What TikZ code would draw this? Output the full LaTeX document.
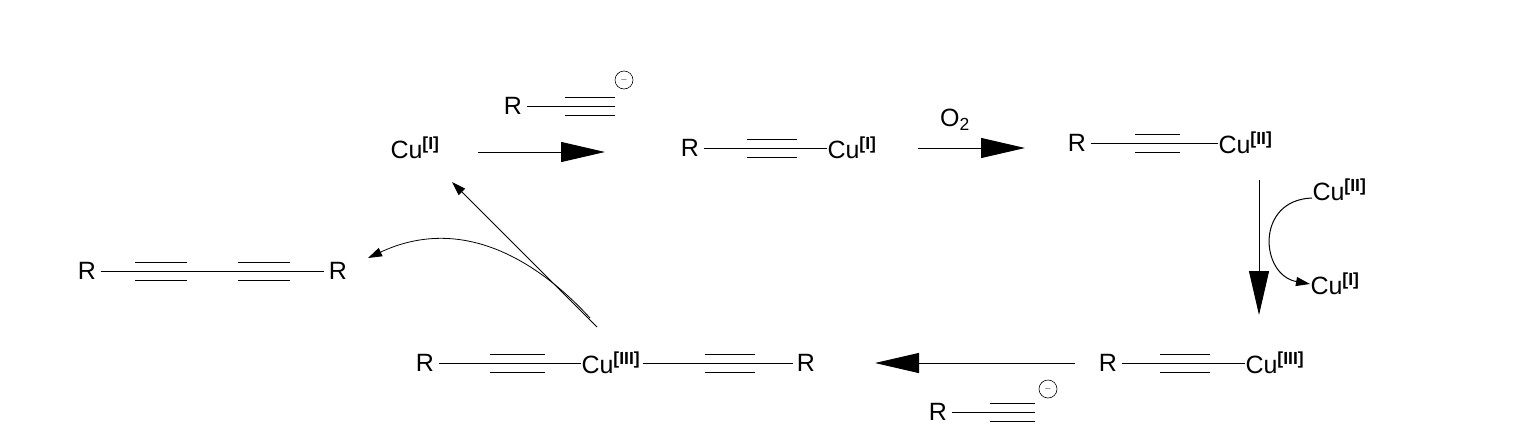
\documentclass[tikz,border=0pt]{standalone}
\usepackage{fontspec}
\setmainfont{Liberation Sans}
\usetikzlibrary{arrows.meta}
\begin{document}
\begin{tikzpicture}[x=1pt,y=-1pt,line width=1pt,
  lbl/.style={font=\fontsize{25}{27}\selectfont,inner sep=0pt},
  big/.style={-{Triangle[length=44pt,width=20pt]}},
  small/.style={-{Triangle[length=14pt,width=9pt]}},
  minus/.style={circle,draw,line width=0.6pt,minimum size=18pt,inner sep=0pt,font=\small}]
\useasboundingbox (0,0) rectangle (1517,426);
\newcommand{\tb}[3]{% x1 x2 y : outer bond lines
  \draw (#1,#3-9) -- (#2,#3-9); \draw (#1,#3+9) -- (#2,#3+9);}
% Cu(I) start
\node[lbl] (cu1) at (415,148) {Cu\textsuperscript{\textbf{[I]}}};
% reagent top
\node[lbl] (rt) at (513,106) {R};
\coordinate (rte) at (615,106);
\draw (rt.east) ++(4,0) -- (rte); \tb{565}{615}{106}
\node[minus] (mt) at (624,80) {$-$};
\coordinate (a1s) at (478,152); \coordinate (a1e) at (605,152);
\draw[big] (a1s) -- (a1e);
% R-C#C-Cu(I)
\node[lbl] (r2) at (690,148) {R};
\node[lbl,anchor=west] (cu2) at (827,148) {Cu\textsuperscript{\textbf{[I]}}};
\draw (r2.east) ++(4,0) -- (cu2.west); \tb{747}{797}{148}
\node[lbl] (o2) at (955,120) {O\textsubscript{2}};
\coordinate (a2s) at (918,148); \coordinate (a2e) at (1025,148);
\draw[big] (a2s) -- (a2e);
% R-C#C-Cu(II)
\node[lbl] (r3) at (1077,143) {R};
\node[lbl,anchor=west] (cu3) at (1218,143) {Cu\textsuperscript{\textbf{[II]}}};
\draw (r3.east) ++(4,0) -- (cu3.west); \tb{1135}{1180}{143}
\coordinate (a3s) at (1259,180); \coordinate (a3e) at (1259,315);
\draw[big] (a3s) -- (a3e);
\node[lbl,anchor=west] (cuii) at (1312,190) {Cu\textsuperscript{\textbf{[II]}}};
\node[lbl,anchor=west] (cui) at (1310,284) {Cu\textsuperscript{\textbf{[I]}}};
\draw[small] (cuii.west) ++(0,8) .. controls (1255,200) and (1260,275) .. (cui.west);
% R-C#C-Cu(III)
\node[lbl] (r4) at (1108,363) {R};
\node[lbl,anchor=west] (cu4) at (1245,363) {Cu\textsuperscript{\textbf{[III]}}};
\draw (r4.east) ++(4,0) -- (cu4.west); \tb{1160}{1210}{363}
\coordinate (a4s) at (1075,363); \coordinate (a4e) at (875,363);
\draw[big] (a4s) -- (a4e);
% reagent bottom
\node[lbl] (rb) at (938,412) {R};
\coordinate (rbe) at (1035,412);
\draw (rb.east) ++(4,0) -- (rbe); \tb{990}{1035}{412}
\node[minus] (mb) at (1048,389) {$-$};
% R-C#C-Cu(III)-C#C-R
\node[lbl] (r5) at (425,363) {R};
\node[lbl,anchor=west] (cu5) at (581,363) {Cu\textsuperscript{\textbf{[III]}}};
\node[lbl] (r6) at (806,363) {R};
\draw (r5.east) ++(4,0) -- (cu5.west); \tb{490}{545}{363}
\draw (cu5.east) ++(2,0) -- ([xshift=-3pt]r6.west); \tb{705}{755}{363}
% product
\node[lbl] (r7) at (87,271) {R};
\node[lbl] (r8) at (338,271) {R};
\draw (r7.east) ++(4,0) -- ([xshift=-4pt]r8.west); \tb{135}{187}{271} \tb{238}{290}{271}
% return arrows
\coordinate (rs) at (597,327); \coordinate (re) at (452,182);
\draw[line width=0.8pt,small] (rs) -- (re);
\coordinate (cs) at (590,318); \coordinate (ce) at (368,258);
\draw[line width=0.8pt,small] (cs) .. controls (535,258) and (460,215) .. (ce);
\end{tikzpicture}
\end{document}
